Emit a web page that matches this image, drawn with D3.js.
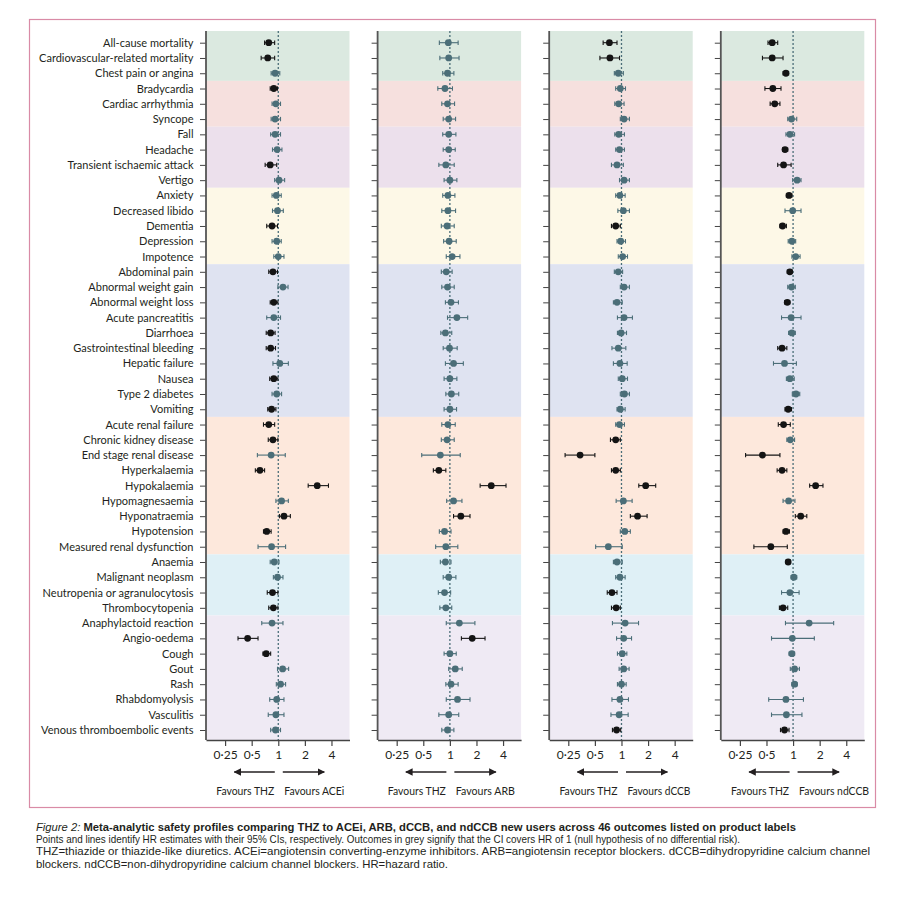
<!DOCTYPE html>
<html>
<head>
<meta charset="utf-8">
<title>Meta-analytic safety profiles</title>
<script src="https://d3js.org/d3.v7.min.js"></script>
<style>
  body { margin: 0; background: #fff; }
  .lbl { font-family: Lato, "Liberation Sans", sans-serif; font-size: 11px; fill: #231f20; }
  .fav { font-family: Lato, "Liberation Sans", sans-serif; fill: #231f20; }
  .cond { font-family: "Liberation Sans Narrow", "Liberation Sans", sans-serif; fill: #231f20; }
</style>
</head>
<body>
<svg id="chart" width="900" height="900"></svg>
<script>
// outcomes, top to bottom
var outcomes = [
  "All-cause mortality", "Cardiovascular-related mortality", "Chest pain or angina",
  "Bradycardia", "Cardiac arrhythmia", "Syncope",
  "Fall", "Headache", "Transient ischaemic attack", "Vertigo",
  "Anxiety", "Decreased libido", "Dementia", "Depression", "Impotence",
  "Abdominal pain", "Abnormal weight gain", "Abnormal weight loss", "Acute pancreatitis", "Diarrhoea",
  "Gastrointestinal bleeding", "Hepatic failure", "Nausea", "Type 2 diabetes", "Vomiting",
  "Acute renal failure", "Chronic kidney disease", "End stage renal disease", "Hyperkalaemia", "Hypokalaemia",
  "Hypomagnesaemia", "Hyponatraemia", "Hypotension", "Measured renal dysfunction",
  "Anaemia", "Malignant neoplasm", "Neutropenia or agranulocytosis", "Thrombocytopenia",
  "Anaphylactoid reaction", "Angio-oedema", "Cough", "Gout", "Rash", "Rhabdomyolysis", "Vasculitis",
  "Venous thromboembolic events"
];
// number of outcomes in each shaded block
var groupSizes = [3, 3, 4, 5, 10, 9, 4, 8];

var comparators = ["ACEi", "ARB", "dCCB", "ndCCB"];

// hazard ratios and 95% CI, THZ vs comparator
var hrACEi = [0.78, 0.76, 0.92, 0.89, 0.94, 0.92, 0.92, 0.97, 0.81, 1.02,
  0.95, 0.98, 0.85, 0.96, 1.00, 0.87, 1.13, 0.89, 0.89, 0.82,
  0.82, 1.04, 0.89, 0.96, 0.84, 0.78, 0.87, 0.83, 0.62, 2.76,
  1.09, 1.16, 0.74, 0.84, 0.90, 0.98, 0.86, 0.88, 0.85, 0.45,
  0.73, 1.12, 1.06, 0.96, 0.94, 0.93];
var loACEi = [0.70, 0.64, 0.83, 0.81, 0.85, 0.83, 0.82, 0.86, 0.71, 0.91,
  0.85, 0.86, 0.74, 0.85, 0.89, 0.78, 0.99, 0.81, 0.74, 0.73,
  0.73, 0.87, 0.80, 0.85, 0.76, 0.68, 0.77, 0.58, 0.55, 2.18,
  0.94, 1.03, 0.68, 0.59, 0.81, 0.88, 0.75, 0.78, 0.65, 0.35,
  0.67, 0.98, 0.95, 0.80, 0.77, 0.82];
var hiACEi = [0.91, 0.91, 1.04, 0.98, 1.06, 1.06, 1.06, 1.10, 0.96, 1.18,
  1.08, 1.14, 0.98, 1.08, 1.16, 0.98, 1.29, 0.99, 1.06, 0.92,
  0.93, 1.30, 0.99, 1.09, 0.94, 0.91, 0.99, 1.20, 0.70, 3.70,
  1.30, 1.37, 0.83, 1.21, 1.02, 1.13, 0.99, 0.99, 1.13, 0.59,
  0.82, 1.31, 1.21, 1.16, 1.16, 1.06];

var hrARB = [0.96, 0.97, 0.94, 0.88, 0.94, 0.97, 0.97, 0.97, 0.90, 1.00,
  0.95, 0.95, 0.93, 0.98, 1.06, 0.91, 0.94, 1.03, 1.20, 0.89,
  0.99, 1.10, 1.00, 1.04, 1.00, 0.95, 0.93, 0.78, 0.75, 2.94,
  1.10, 1.33, 0.87, 0.90, 0.89, 0.97, 0.87, 0.90, 1.28, 1.79,
  1.00, 1.15, 1.03, 1.22, 0.97, 0.94];
var loARB = [0.76, 0.77, 0.83, 0.73, 0.81, 0.84, 0.83, 0.84, 0.75, 0.86,
  0.83, 0.81, 0.80, 0.85, 0.91, 0.80, 0.81, 0.89, 0.94, 0.79,
  0.84, 0.89, 0.86, 0.90, 0.86, 0.81, 0.80, 0.48, 0.65, 2.20,
  0.92, 1.10, 0.76, 0.69, 0.78, 0.84, 0.74, 0.77, 0.91, 1.35,
  0.86, 0.97, 0.90, 0.91, 0.75, 0.81];
var hiARB = [1.24, 1.27, 1.11, 1.07, 1.13, 1.16, 1.17, 1.15, 1.12, 1.20,
  1.14, 1.16, 1.12, 1.18, 1.30, 1.06, 1.12, 1.25, 1.59, 1.05,
  1.21, 1.42, 1.20, 1.26, 1.19, 1.15, 1.12, 1.31, 0.90, 4.32,
  1.37, 1.69, 1.03, 1.23, 1.03, 1.17, 1.02, 1.05, 1.92, 2.50,
  1.18, 1.38, 1.24, 1.69, 1.26, 1.11];

var hrDCCB = [0.73, 0.74, 0.92, 0.97, 0.93, 1.07, 0.93, 0.95, 0.89, 1.07,
  0.96, 1.05, 0.86, 0.98, 1.03, 0.92, 1.07, 0.89, 1.07, 0.99,
  0.92, 0.96, 1.02, 1.08, 0.97, 0.95, 0.86, 0.34, 0.86, 1.88,
  1.05, 1.52, 1.09, 0.71, 0.89, 0.96, 0.78, 0.87, 1.10, 1.06,
  1.02, 1.06, 1.00, 0.96, 0.94, 0.88];
var loDCCB = [0.62, 0.57, 0.83, 0.86, 0.84, 0.97, 0.84, 0.86, 0.77, 0.95,
  0.86, 0.91, 0.77, 0.89, 0.92, 0.83, 0.97, 0.81, 0.90, 0.90,
  0.78, 0.81, 0.92, 0.97, 0.89, 0.86, 0.75, 0.23, 0.77, 1.57,
  0.87, 1.26, 0.97, 0.51, 0.81, 0.86, 0.69, 0.77, 0.79, 0.88,
  0.90, 0.94, 0.90, 0.78, 0.76, 0.79];
var hiDCCB = [0.89, 0.95, 1.05, 1.11, 1.07, 1.23, 1.08, 1.08, 1.05, 1.23,
  1.10, 1.23, 0.97, 1.11, 1.17, 1.03, 1.23, 1.02, 1.33, 1.14,
  1.12, 1.16, 1.17, 1.23, 1.10, 1.08, 0.97, 0.50, 0.97, 2.44,
  1.32, 1.95, 1.26, 1.02, 1.02, 1.10, 0.89, 0.97, 1.56, 1.30,
  1.15, 1.22, 1.13, 1.20, 1.19, 0.98];

var hrNDCCB = [0.58, 0.58, 0.83, 0.59, 0.62, 0.96, 0.92, 0.81, 0.78, 1.11,
  0.90, 0.99, 0.76, 0.97, 1.07, 0.92, 0.96, 0.86, 0.95, 0.97,
  0.75, 0.80, 0.92, 1.08, 0.88, 0.78, 0.93, 0.45, 0.75, 1.80,
  0.89, 1.22, 0.83, 0.56, 0.88, 1.02, 0.92, 0.77, 1.52, 0.98,
  0.97, 1.04, 1.04, 0.83, 0.84, 0.80];
var loNDCCB = [0.52, 0.45, 0.77, 0.48, 0.55, 0.87, 0.83, 0.76, 0.67, 0.99,
  0.84, 0.81, 0.71, 0.88, 0.97, 0.86, 0.87, 0.80, 0.74, 0.89,
  0.67, 0.60, 0.84, 0.98, 0.81, 0.68, 0.85, 0.29, 0.66, 1.54,
  0.77, 1.06, 0.77, 0.36, 0.83, 0.95, 0.74, 0.70, 0.82, 0.57,
  0.90, 0.93, 0.97, 0.53, 0.57, 0.72];
var hiNDCCB = [0.67, 0.77, 0.89, 0.73, 0.71, 1.10, 1.04, 0.87, 0.95, 1.23,
  0.97, 1.23, 0.84, 1.07, 1.20, 0.97, 1.06, 0.92, 1.23, 1.06,
  0.85, 1.09, 1.03, 1.19, 0.96, 0.93, 1.04, 0.71, 0.85, 2.18,
  1.05, 1.43, 0.91, 0.86, 0.93, 1.10, 1.17, 0.87, 2.88, 1.74,
  1.04, 1.18, 1.11, 1.31, 1.26, 0.90];

var tickValues = [0.25, 0.5, 1, 2, 4];
var tickLabels = ["0·25", "0·5", "1", "2", "4"];

var captionLines = [
  "Points and lines identify HR estimates with their 95% CIs, respectively. Outcomes in grey signify that the CI covers HR of 1 (null hypothesis of no differential risk).",
  "THZ=thiazide or thiazide-like diuretics. ACEi=angiotensin converting-enzyme inhibitors. ARB=angiotensin receptor blockers. dCCB=dihydropyridine calcium channel",
  "blockers. ndCCB=non-dihydropyridine calcium channel blockers. HR=hazard ratio."
];

var series = {
  ACEi: { hr: hrACEi, lo: loACEi, hi: hiACEi },
  ARB: { hr: hrARB, lo: loARB, hi: hiARB },
  dCCB: { hr: hrDCCB, lo: loDCCB, hi: hiDCCB },
  ndCCB: { hr: hrNDCCB, lo: loNDCCB, hi: hiNDCCB }
};

// styles
var bandFills = ["#dbe9e0", "#f6e0de", "#ece0ec", "#fdf8e7", "#dfe3f1", "#fde8dc", "#dff0f6", "#efeaf4"];
var ink = "#231f20", sigCol = "#141414", nsCol = "#4b6e78";
var favourWidths = { THZ: 58, ACEi: 60, ARB: 59, dCCB: 63, ndCCB: 70 };

var svg = d3.select("#chart");

// pink frame
svg.append("rect")
  .attr("x", 29.5).attr("y", 19.5)
  .attr("width", 846).attr("height", 788)
  .attr("fill", "none").attr("stroke", "#d98ba6").attr("stroke-width", 1.2);

var defs = svg.append("defs");
defs.append("marker")
  .attr("id", "arrow")
  .attr("viewBox", "0 0 10 10")
  .attr("refX", 9).attr("refY", 5)
  .attr("markerWidth", 7.5).attr("markerHeight", 7.5)
  .attr("markerUnits", "userSpaceOnUse")
  .attr("orient", "auto")
  .append("path").attr("d", "M0,0L10,5L0,10Z").attr("fill", ink);

var panelTop = 31, panelBottom = 740;
var panelW = 143.5, panelX0 = 206, panelStep = 171.6;

var y = d3.scalePoint().domain(outcomes).range([42.7, 730]);
var step = y.step();
var x = d3.scaleLog().domain([0.152, 6.4]).range([0, panelW]);

// block extents
var groups = [];
var start = 0;
groupSizes.forEach(function(n, i) {
  var y0 = i === 0 ? panelTop : y(outcomes[start]) - step / 2;
  var y1 = i === groupSizes.length - 1 ? panelBottom : y(outcomes[start + n - 1]) + step / 2;
  groups.push({ y0: y0, y1: y1, fill: bandFills[i] });
  start += n;
});

comparators.forEach(function(comp, p) {
  var s = series[comp];
  var rows = outcomes.map(function(o, i) {
    return { outcome: o, hr: s.hr[i], lo: s.lo[i], hi: s.hi[i], sig: s.hi[i] < 1 || s.lo[i] > 1 };
  });

  var g = svg.append("g")
    .attr("transform", "translate(" + (panelX0 + p * panelStep) + ",0)");

  // shaded blocks
  g.selectAll(".band").data(groups).enter().append("rect")
    .attr("class", "band")
    .attr("x", 0).attr("width", panelW)
    .attr("y", function(d) { return d.y0; })
    .attr("height", function(d) { return d.y1 - d.y0; })
    .attr("fill", function(d) { return d.fill; });

  // null line
  g.append("line")
    .attr("x1", x(1)).attr("x2", x(1))
    .attr("y1", panelTop).attr("y2", panelBottom)
    .attr("stroke", nsCol).attr("stroke-width", 1.3)
    .attr("stroke-dasharray", "2,2");

  // y axis
  var yAxis = g.append("g")
    .attr("class", "lbl")
    .call(d3.axisLeft(y).tickSize(6).tickPadding(6.5).tickFormat(p === 0 ? null : ""));
  yAxis.select(".domain").remove();
  yAxis.selectAll(".tick line").attr("stroke", "#444");
  yAxis.selectAll("text").attr("fill", ink);
  yAxis.attr("font-family", null).attr("font-size", null);

  g.append("line")
    .attr("x1", 0).attr("x2", 0)
    .attr("y1", panelTop).attr("y2", panelBottom)
    .attr("stroke", "#555").attr("stroke-width", 1.8);

  // x axis
  var xAxis = g.append("g")
    .attr("transform", "translate(0," + panelBottom + ")")
    .call(d3.axisBottom(x)
      .tickValues(tickValues)
      .tickFormat(function(d, i) { return tickLabels[i]; })
      .tickSize(6).tickSizeOuter(0).tickPadding(4));
  xAxis.attr("font-family", "Lato, 'Liberation Sans', sans-serif").attr("font-size", 12);
  xAxis.select(".domain").attr("stroke", "#444").attr("stroke-width", 1.3);
  xAxis.selectAll(".tick line").attr("stroke", "#444").attr("stroke-width", 1.2);
  xAxis.selectAll("text").attr("fill", ink);

  // confidence intervals
  var ci = g.selectAll(".ci").data(rows).enter().append("g")
    .attr("class", "ci")
    .attr("stroke", function(d) { return d.sig ? sigCol : nsCol; })
    .attr("stroke-width", 1.1);
  ci.append("line")
    .attr("x1", function(d) { return x(d.lo); })
    .attr("x2", function(d) { return x(d.hi); })
    .attr("y1", function(d) { return y(d.outcome); })
    .attr("y2", function(d) { return y(d.outcome); });
  ci.append("line")
    .attr("x1", function(d) { return x(d.lo); })
    .attr("x2", function(d) { return x(d.lo); })
    .attr("y1", function(d) { return y(d.outcome) - 2.2; })
    .attr("y2", function(d) { return y(d.outcome) + 2.2; });
  ci.append("line")
    .attr("x1", function(d) { return x(d.hi); })
    .attr("x2", function(d) { return x(d.hi); })
    .attr("y1", function(d) { return y(d.outcome) - 2.2; })
    .attr("y2", function(d) { return y(d.outcome) + 2.2; });

  // point estimates
  g.selectAll(".pt").data(rows).enter().append("circle")
    .attr("class", "pt")
    .attr("cx", function(d) { return x(d.hr); })
    .attr("cy", function(d) { return y(d.outcome); })
    .attr("r", 3.4)
    .attr("fill", function(d) { return d.sig ? sigCol : nsCol; });

  // direction arrows
  var ay = 772;
  g.append("line")
    .attr("x1", x(1) - 3.5).attr("x2", x(1) - 44)
    .attr("y1", ay).attr("y2", ay)
    .attr("stroke", ink).attr("stroke-width", 1.3)
    .attr("marker-end", "url(#arrow)");
  g.append("line")
    .attr("x1", x(1) + 4.5).attr("x2", x(1) + 46)
    .attr("y1", ay).attr("y2", ay)
    .attr("stroke", ink).attr("stroke-width", 1.3)
    .attr("marker-end", "url(#arrow)");

  g.append("text")
    .attr("class", "fav")
    .attr("x", x(1) - 4).attr("y", 794.5)
    .attr("text-anchor", "end")
    .attr("font-size", 11.5)
    .attr("textLength", favourWidths.THZ).attr("lengthAdjust", "spacingAndGlyphs")
    .text("Favours THZ");
  g.append("text")
    .attr("class", "fav")
    .attr("x", x(1) + 6).attr("y", 794.5)
    .attr("font-size", 11.5)
    .attr("textLength", favourWidths[comp]).attr("lengthAdjust", "spacingAndGlyphs")
    .text("Favours " + comp);
});

// caption
var cap = svg.append("g").attr("class", "cond").attr("font-size", 11);
var title = cap.append("text")
  .attr("x", 36).attr("y", 830.5)
  .attr("textLength", 760).attr("lengthAdjust", "spacingAndGlyphs");
title.append("tspan").attr("font-style", "italic").text("Figure 2: ");
title.append("tspan").attr("font-weight", "bold")
  .text("Meta-analytic safety profiles comparing THZ to ACEi, ARB, dCCB, and ndCCB new users across 46 outcomes listed on product labels");

var capWidths = [704, 834, 412];
captionLines.forEach(function(t, i) {
  cap.append("text")
    .attr("x", 36).attr("y", 843 + i * 12.3)
    .attr("textLength", capWidths[i]).attr("lengthAdjust", "spacingAndGlyphs")
    .text(t);
});
</script>
</body>
</html>
